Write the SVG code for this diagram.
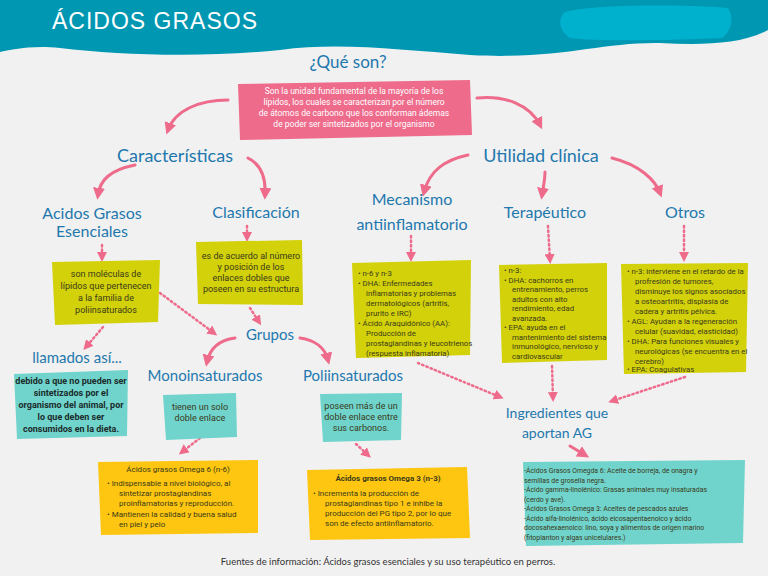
<svg xmlns="http://www.w3.org/2000/svg" width="768" height="576" viewBox="0 0 768 576">
<defs>
<marker id="ah" viewBox="0 0 10 10" refX="6" refY="5" markerWidth="4" markerHeight="4" orient="auto"><path d="M0,0 L10,5 L0,10 z" fill="#ee6b8b"/></marker>
<style>
.h{font-family:"Lato","Open Sans",sans-serif;fill:#1e78ae;text-anchor:middle}
.t{font-family:"Roboto","Liberation Sans",sans-serif;fill:#3a3a1a;font-size:8.5px;white-space:pre}
.c{text-anchor:middle}
.cur{fill:none;stroke:#ee6b8b;stroke-width:3;stroke-linecap:round}
.dot{fill:none;stroke:#ee6b8b;stroke-width:2.5;stroke-dasharray:1.5 3;stroke-linecap:round}
.y{fill:#d3d10a}.tq{fill:#70d4cc}.o{fill:#fec610}
</style>
</defs>
<rect width="768" height="576" fill="#f1f1f1"/>
<path d="M0,0 H768 V30 C740,45 700,45 660,43 C600,42 560,60 470,55 C400,50 340,42 280,50 C200,58 120,55 60,48 C30,45 10,50 0,52 Z" fill="#0097b3"/>
<path d="M565,12 C600,3 700,5 728,8 C735,20 730,32 722,38 C680,40 600,42 570,38 C558,30 558,18 565,12 Z" fill="#00b1cd"/>
<text x="52" y="29" font-family="Liberation Sans,sans-serif" font-size="23" fill="#fff" letter-spacing="1">ÁCIDOS GRASOS</text>

<g id="connectors">
<path class="cur" d="M228,100 C200,100 175,110 168,130" marker-end="url(#ah)"/>
<path class="cur" d="M477,98 C505,95 530,105 540,125" marker-end="url(#ah)"/>
<path class="cur" d="M135,165 C110,170 100,180 98,195" marker-end="url(#ah)"/>
<path class="cur" d="M248,158 C262,165 266,178 265,195" marker-end="url(#ah)"/>
<path class="cur" d="M468,155 C445,160 430,170 424,192" marker-end="url(#ah)"/>
<path class="cur" d="M545,172 C545,180 543,188 542,195" marker-end="url(#ah)"/>
<path class="cur" d="M612,158 C640,165 655,180 660,193" marker-end="url(#ah)"/>
<path class="dot" d="M102,245 L102,258" marker-end="url(#ah)"/>
<path class="dot" d="M247,226 L247,238" marker-end="url(#ah)"/>
<path class="dot" d="M411,236 L411,258" marker-end="url(#ah)"/>
<path class="dot" d="M548,226 L550,260" marker-end="url(#ah)"/>
<path class="dot" d="M684,226 L684,258" marker-end="url(#ah)"/>
<path class="dot" d="M160,293 L214,333" marker-end="url(#ah)"/>
<path class="dot" d="M250,308 L259,322" marker-end="url(#ah)"/>
<path class="dot" d="M103,327 L86,347" marker-end="url(#ah)"/>
<path class="cur" d="M235,338 C220,340 210,348 207,362" marker-end="url(#ah)"/>
<path class="cur" d="M300,338 C315,340 325,348 328,360" marker-end="url(#ah)"/>
<path class="dot" d="M200,438 L182,452" marker-end="url(#ah)"/>
<path class="dot" d="M356,444 L368,455" marker-end="url(#ah)"/>
<path class="dot" d="M418,363 L500,397" marker-end="url(#ah)"/>
<path class="dot" d="M552,366 L553,398" marker-end="url(#ah)"/>
<path class="dot" d="M685,377 L612,401" marker-end="url(#ah)"/>
<path class="cur" d="M570,446 L585,455" marker-end="url(#ah)"/>
</g>

<g id="que"><text class="h" x="348" y="68" font-size="17">¿Qué son?</text>
<path d="M238,84 L470,80 L472,135 L240,140 Z" fill="#ee6b8b"/>
<g class="t c" style="fill:#fff">
<text x="354" y="94">Son la unidad fundamental de la mayoría de los</text>
<text x="354" y="105">lípidos, los cuales se caracterizan por el número</text>
<text x="354" y="116">de átomos de carbono que los conforman ádemas</text>
<text x="354" y="127">de poder ser sintetizados por el organismo</text></g></g>

<g id="caract"><text class="h" x="175" y="162" font-size="18">Características</text></g>
<g id="util"><text class="h" x="541" y="162" font-size="18">Utilidad clínica</text></g>
<g id="age"><text class="h" x="92" y="219" font-size="16">Acidos Grasos</text><text class="h" x="92" y="237" font-size="16">Esenciales</text>
<path class="y" d="M52,262 L160,260 L158,322 L55,325 Z"/>
<g class="t c" style="font-size:9px"><text x="106" y="277">son moléculas de</text><text x="106" y="289">lípidos que pertenecen</text><text x="106" y="301">a la familia de</text><text x="106" y="313">poliinsaturados</text></g></g>
<g id="clasif"><text class="h" x="256" y="218" font-size="16">Clasificación</text>
<path class="y" d="M196,242 L302,240 L303,305 L198,304 Z"/>
<g class="t c" style="font-size:9px"><text x="251" y="259">es de acuerdo al número</text><text x="251" y="270">y posición de los</text><text x="251" y="281">enlaces dobles que</text><text x="251" y="292">poseen en su estructura</text></g></g>
<g id="mecan"><text class="h" x="412" y="205" font-size="16">Mecanismo</text><text class="h" x="412" y="230" font-size="16">antiinflamatorio</text>
<path class="y" d="M352,263 L471,260 L470,355 L356,358 Z"/>
<g class="t" style="font-size:7.8px"><text x="358" y="276">•  n-6 y n-3</text><text x="358" y="286">•  DHA: Enfermedades</text><text x="366" y="296">inflamatorias y problemas</text><text x="366" y="306">dermatológicos (artritis,</text><text x="366" y="316">prurito e IRC)</text><text x="358" y="326">•  Ácido Araquidónico (AA):</text><text x="366" y="336">Producción de</text><text x="366" y="346">prostaglandinas y leucotrienos</text><text x="366" y="356">(respuesta inflamatoria)</text></g></g>
<g id="terap"><text class="h" x="545" y="218" font-size="16">Terapéutico</text>
<path class="y" d="M499,265 L607,263 L607,360 L502,363 Z"/>
<g class="t" style="font-size:7.8px"><text x="504" y="273">•  n-3:</text><text x="504" y="282.5">•  DHA:      cachorros     en</text><text x="512" y="292">entrenamiento,        perros</text><text x="512" y="301.5">adultos       con        alto</text><text x="512" y="311">rendimiento,            edad</text><text x="512" y="320.5">avanzada.</text><text x="504" y="330">•  EPA:    ayuda    en    el</text><text x="512" y="339.5">mantenimiento del sistema</text><text x="512" y="349">inmunológico, nervioso y</text><text x="512" y="358.5">cardiovascular</text></g></g>
<g id="otros"><text class="h" x="685" y="218" font-size="16">Otros</text>
<path class="y" d="M621,264 L748,263 L746,372 L624,374 Z"/>
<g class="t" style="font-size:7.8px"><text x="627" y="274">•  n-3: interviene en el retardo de la</text><text x="635" y="284">profresión       de        tumores,</text><text x="635" y="294">disminuye los signos asociados</text><text x="635" y="304">a osteoartritis, displasia de</text><text x="635" y="314">cadera y artritis pélvica.</text><text x="627" y="324">•  AGL: Ayudan a la regeneración</text><text x="635" y="334">celular (suavidad, elasticidad)</text><text x="627" y="344">•  DHA: Para funciones visuales y</text><text x="635" y="354">neurológicas (se encuentra en el</text><text x="635" y="364">cerebro)</text><text x="627" y="372">•  EPA: Coagulativas</text></g></g>
<g id="grupos"><text class="h" x="270" y="340" font-size="15">Grupos</text></g>
<g id="llamados"><text class="h" x="77" y="363" font-size="15">llamados así...</text>
<path class="tq" d="M14,374 L128,370 L127,436 L17,439 Z"/>
<g class="t c" style="font-size:9px;fill:#1b2b2b;font-weight:bold"><text x="71" y="384">debido a que no pueden ser</text><text x="71" y="396">sintetizados por el</text><text x="71" y="408">organismo del animal, por</text><text x="71" y="420">lo que deben ser</text><text x="71" y="432">consumidos en la dieta.</text></g></g>
<g id="mono"><text class="h" x="205" y="381" font-size="15">Monoinsaturados</text>
<path class="tq" d="M163,395 L236,393 L237,437 L166,440 Z"/>
<g class="t c" style="font-size:9px"><text x="200" y="410">tienen un solo</text><text x="200" y="421">doble enlace</text></g></g>
<g id="poli"><text class="h" x="353" y="381" font-size="15">Poliinsaturados</text>
<path class="tq" d="M320,394 L402,393 L401,440 L323,442 Z"/>
<g class="t c" style="font-size:9px"><text x="361" y="409">poseen más de un</text><text x="361" y="420">doble enlace entre</text><text x="361" y="431">sus carbonos.</text></g></g>
<g id="o6"><path class="o" d="M98,462 L258,460 L258,533 L101,535 Z"/>
<g class="t" style="font-size:8px"><text x="178" y="472" class="c">Ácidos grasos Omega 6 (n-6)</text><text x="107" y="486">•  Indispensable  a  nivel  biológico,  al</text><text x="119" y="496">sintetizar                 prostaglandinas</text><text x="119" y="506">proinflamatorias y reproducción.</text><text x="107" y="517">•  Mantienen la calidad y buena salud</text><text x="119" y="527">en piel y pelo</text></g></g>
<g id="o3"><path class="o" d="M307,470 L467,467 L470,538 L310,540 Z"/>
<g class="t" style="font-size:8px"><text x="388" y="481" class="c" font-weight="bold">Ácidos grasos Omega 3 (n-3)</text><text x="313" y="496">•  Incrementa   la   producción   de</text><text x="325" y="506">prostaglandinas tipo 1 e inhibe la</text><text x="325" y="516">producción del PG tipo 2, por lo que</text><text x="325" y="526">son de efecto antiinflamatorio.</text></g></g>
<g id="ingr"><text class="h" x="557" y="418" font-size="14">Ingredientes que</text><text class="h" x="557" y="438" font-size="14">aportan AG</text>
<path class="tq" d="M523,462 L745,460 L743,543 L526,546 Z"/>
<g class="t" style="font-size:6.9px"><text x="524" y="473">-Ácidos Grasos Omegda 6: Aceite de borreja, de onagra y</text><text x="524" y="482.5">semillas de grosella negra.</text><text x="524" y="492">-Ácido gamma-linolénico: Grasas animales muy insaturadas</text><text x="524" y="501.5">(cerdo y ave).</text><text x="524" y="511">-Ácidos Grasos Omega 3: Aceites de pescados azules</text><text x="524" y="520.5">-Ácido alfa-linolénico, ácido eicosapentaenoico y ácido</text><text x="524" y="530">docosahexaenoico: lino, soya y alimentos de origen marino</text><text x="524" y="539.5">(fitoplanton y algas unicelulares.)</text></g></g>
<text x="388" y="565" font-family="Lato,sans-serif" font-size="9.5" fill="#333" text-anchor="middle">Fuentes de información: Ácidos grasos esenciales y su uso terapéutico en perros.</text>
</svg>
